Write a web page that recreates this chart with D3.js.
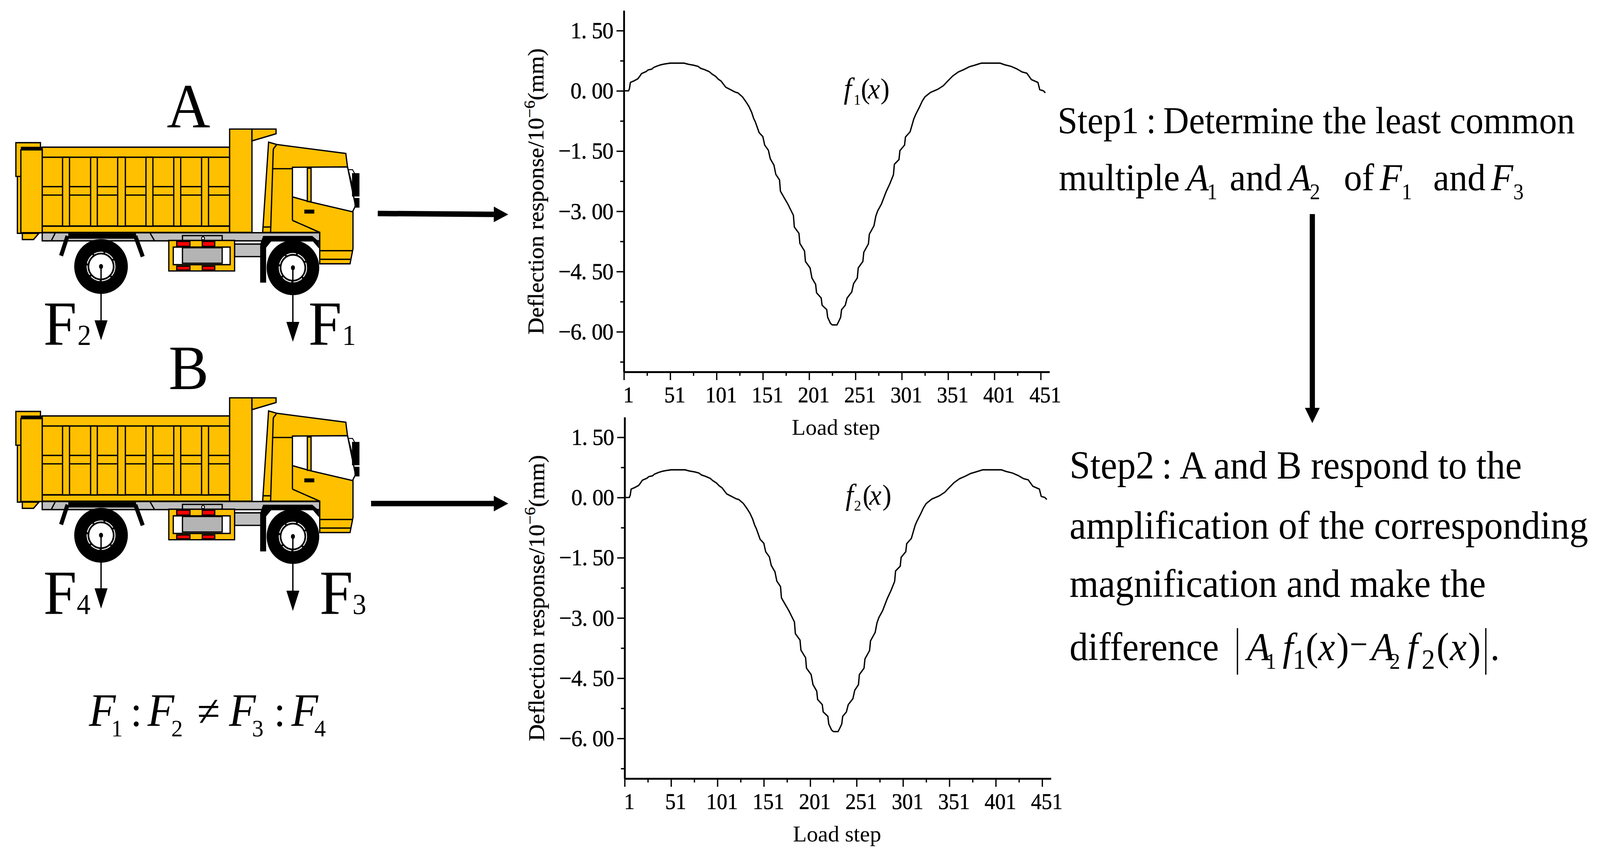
<!DOCTYPE html>
<html>
<head>
<meta charset="utf-8">
<script src="https://cdn.jsdelivr.net/npm/d3@7"></script>
<style>
html, body { margin: 0; padding: 0; background: #fff; overflow: hidden; }
svg { display: block; width: 100vw; height: 100vh; }
text { font-family: "Liberation Serif", serif; fill: #000; }
.axis path, .axis line { stroke: #000; }
</style>
</head>
<body>
<!-- the window can be narrower than the drawing, so the drawing is fitted to it -->
<svg id="fig" viewBox="0 0 4316 2204" preserveAspectRatio="none"></svg>
<script>
// values
var xTicks = [1, 51, 101, 151, 201, 251, 301, 351, 401, 451];
var xMinor = [26, 76, 126, 176, 226, 276, 326, 376, 426];
var yTicks = [1.5, 0, -1.5, -3, -4.5, -6];
var yMinor = [0.75, -0.75, -2.25, -3.75, -5.25, -6.75];
var yTickLabels = ['1. 50', '0. 00', '\u22121. 50', '\u22123. 00', '\u22124. 50', '\u22126. 00'];

var loadStep = [1, 6, 7, 8, 12, 16, 18, 20, 25, 27, 31, 33, 37, 41, 45, 51, 66, 71, 76, 81, 84, 88, 93, 96, 100, 103, 106, 108, 111, 116, 121, 124, 129, 133, 136, 139, 141, 143, 145, 147, 151, 153, 157, 159, 163, 165, 169, 170, 174, 178, 181, 184, 185, 190, 191, 196, 197, 202, 204, 208, 209, 214, 215, 220, 221, 224, 226, 231, 233, 235, 236, 240, 242, 247, 249, 253, 254, 259, 260, 265, 266, 271, 273, 275, 279, 284, 288, 292, 293, 298, 299, 304, 305, 310, 312, 314, 316, 320, 323, 326, 332, 340, 346, 350, 356, 362, 368, 374, 380, 387, 407, 412, 419, 425, 431, 436, 441, 448, 450, 454, 456];
var f1Values = [0, 0, .06, .21, .25, .30, .36, .43, .48, .52, .54, .58, .62, .65, .67, .69, .69, .66, .64, .61, .56, .53, .48, .42, .36, .29, .24, .18, .09, .03, -.03, -.05, -.15, -.28, -.39, -.54, -.68, -.78, -.91, -1.04, -1.14, -1.35, -1.48, -1.69, -1.85, -2.08, -2.22, -2.50, -2.66, -2.82, -2.96, -3.10, -3.39, -3.55, -3.80, -3.99, -4.25, -4.41, -4.66, -4.82, -5.03, -5.16, -5.34, -5.45, -5.64, -5.79, -5.83, -5.83, -5.74, -5.64, -5.45, -5.34, -5.16, -5.01, -4.80, -4.66, -4.41, -4.25, -4.02, -3.81, -3.57, -3.36, -3.12, -2.99, -2.82, -2.52, -2.32, -2.09, -1.83, -1.71, -1.49, -1.35, -1.15, -1.02, -.86, -.70, -.59, -.41, -.26, -.15, -.04, .04, .13, .23, .37, .47, .53, .60, .64, .69, .69, .65, .61, .55, .47, .44, .28, .21, .03, 0, -.05];
var f2Values = [0, 0, .06, .21, .25, .30, .36, .43, .48, .52, .54, .58, .62, .65, .67, .69, .69, .66, .64, .61, .56, .53, .48, .42, .36, .29, .24, .18, .09, .03, -.03, -.05, -.15, -.28, -.39, -.54, -.68, -.78, -.91, -1.04, -1.14, -1.35, -1.48, -1.69, -1.85, -2.08, -2.22, -2.50, -2.66, -2.82, -2.96, -3.10, -3.39, -3.55, -3.80, -3.99, -4.25, -4.41, -4.66, -4.82, -5.03, -5.16, -5.34, -5.45, -5.64, -5.79, -5.83, -5.83, -5.74, -5.64, -5.45, -5.34, -5.16, -5.01, -4.80, -4.66, -4.41, -4.25, -4.02, -3.81, -3.57, -3.36, -3.12, -2.99, -2.82, -2.52, -2.32, -2.09, -1.83, -1.71, -1.49, -1.35, -1.15, -1.02, -.86, -.70, -.59, -.41, -.26, -.15, -.04, .04, .13, .23, .37, .47, .53, .60, .64, .69, .69, .65, .61, .55, .47, .44, .28, .21, .03, 0, -.05];

var svg = d3.select('#fig');

// text helper, width squeezes the run to the measured length
function label(parent, x, y, str, size, opts) {
	opts = opts || {};
	var t = parent.append('text')
		.attr('x', x)
		.attr('y', y)
		.attr('font-size', size)
		.text(str);
	if (opts.anchor) t.attr('text-anchor', opts.anchor);
	if (opts.width) t.attr('textLength', opts.width).attr('lengthAdjust', 'spacingAndGlyphs');
	return t;
}

// one text made of placed runs: [x, y, string, size, italic]
function formula(parent, runs) {
	var t = parent.append('text');
	runs.forEach(function (r) {
		t.append('tspan')
			.attr('x', r[0])
			.attr('y', r[1])
			.attr('font-size', r[3])
			.attr('font-style', r[4] ? 'italic' : 'normal')
			.text(r[2]);
	});
	return t;
}

function drawChart(left, right, top, bottom, values, fRuns, labelMid, labelX) {
	var x = d3.scaleLinear().domain([1, 460.5]).range([left, right]);
	var y = d3.scaleLinear().domain([-7, 2]).range([bottom, top]);
	var g = svg.append('g');

	var xAxis = g.append('g').attr('class', 'axis').attr('transform', 'translate(0,' + bottom + ')')
		.call(d3.axisBottom(x).tickValues(xTicks).tickSize(21).tickSizeOuter(0).tickPadding(17).tickFormat(d3.format('d')));
	g.append('g').attr('class', 'axis').attr('transform', 'translate(0,' + bottom + ')')
		.call(d3.axisBottom(x).tickValues(xMinor).tickSize(10).tickSizeOuter(0).tickFormat(''));
	var yAxis = g.append('g').attr('class', 'axis').attr('transform', 'translate(' + left + ',0)')
		.call(d3.axisLeft(y).tickValues(yTicks).tickSize(20).tickSizeOuter(0).tickPadding(9)
			.tickFormat(function (d, i) { return yTickLabels[i]; }));
	g.append('g').attr('class', 'axis').attr('transform', 'translate(' + left + ',0)')
		.call(d3.axisLeft(y).tickValues(yMinor).tickSize(10).tickSizeOuter(0).tickFormat(''));

	g.selectAll('.axis path').attr('stroke-width', 4.5);
	g.selectAll('.axis line').attr('stroke-width', 3.5);
	xAxis.selectAll('text').attr('font-size', 57).attr('dx', 12).style('stroke', '#000').style('stroke-width', 0.7);
	yAxis.selectAll('text').attr('font-size', 60).attr('letter-spacing', -1).style('stroke', '#000').style('stroke-width', 0.7);

	var line = d3.line()
		.x(function (d) { return x(d[0]); })
		.y(function (d) { return y(d[1]); });
	g.append('path')
		.datum(d3.zip(loadStep, values))
		.attr('fill', 'none')
		.attr('stroke', '#000')
		.attr('stroke-width', 3.6)
		.attr('d', line);

	label(g, (left + right) / 2 - 2, bottom + 161, 'Load step', 58, { anchor: 'middle', width: 238 });

	// rotated y title with the exponent raised
	var yt = g.append('text')
		.attr('transform', 'translate(' + labelX + ',' + labelMid + ') rotate(-90)')
		.attr('text-anchor', 'middle')
		.attr('font-size', 60)
		.style('stroke', '#000')
		.style('stroke-width', 0.5);
	yt.append('tspan').text('Deflection response/10');
	yt.append('tspan').attr('font-size', 42).attr('dy', -24).text('\u22126');
	yt.append('tspan').attr('dy', 24).text('(mm)');

	formula(g, fRuns);
}

drawChart(1683, 2831, 27, 952, f1Values,
	[[2276, 252, 'f', 76, true], [2303, 268, '1', 38], [2322, 252, '(', 74], [2341, 252, 'x', 74, true], [2375, 252, ')', 74]], 490, 1466);
drawChart(1685, 2835, 1068, 1993, f2Values,
	[[2281, 1292, 'f', 76, true], [2304, 1307, '2', 38], [2327, 1292, '(', 74], [2345, 1292, 'x', 74, true], [2380, 1292, ')', 74]], 1531, 1468);

// truck traced in crop coordinates, mapped to the page by two scales
var tx = d3.scaleLinear().domain([0, 1568]).range([0, 1050]);
var ty = d3.scaleLinear().domain([0, 1568]).range([200, 920]);
var yellow = '#FFC000', grey = '#BFBFBF', red = '#FF0000';

function poly(g, pts, fill, sw) {
	g.append('polygon')
		.attr('points', pts.map(function (p) { return tx(p[0]) + ',' + ty(p[1]); }).join(' '))
		.attr('fill', fill)
		.attr('stroke', '#000')
		.attr('stroke-width', sw === undefined ? 3.4 : sw)
		.attr('stroke-linejoin', 'miter');
}
function box(g, x0, y0, x1, y1, fill, sw) {
	poly(g, [[x0, y0], [x1, y0], [x1, y1], [x0, y1]], fill, sw);
}
function seg(g, x0, y0, x1, y1, sw) {
	g.append('line')
		.attr('x1', tx(x0)).attr('y1', ty(y0)).attr('x2', tx(x1)).attr('y2', ty(y1))
		.attr('stroke', '#000')
		.attr('stroke-width', sw === undefined ? 3.4 : sw);
}
function wheel(g, cx, cy, rx, ry) {
	var sx = 1050 / 1568, sy = 720 / 1568;
	function oval(a, b, fill) {
		return g.append('ellipse')
			.attr('cx', tx(cx)).attr('cy', ty(cy))
			.attr('rx', a * sx).attr('ry', b * sy).attr('fill', fill);
	}
	oval(rx, ry, '#000');
	oval(rx * 0.52, ry * 0.52, 'none').attr('stroke', '#fff').attr('stroke-width', 2.5).attr('stroke-dasharray', '26 5');
	oval(rx * 0.44, ry * 0.44, '#fff');
	oval(8, 14, '#000');
}

function drawTruck(dy) {
	var g = svg.append('g').attr('transform', 'translate(0,' + dy + ')');

	// tail gate
	box(g, 64, 360, 163, 548, yellow);
	box(g, 70, 548, 90, 865, yellow);
	poly(g, [[90, 865], [157, 865], [135, 900], [90, 900]], yellow);

	// chassis rail
	box(g, 170, 862, 1288, 907, grey);
	seg(g, 222, 865, 207, 905);
	seg(g, 605, 865, 622, 905);
	box(g, 945, 925, 1055, 995, grey);
	box(g, 275, 865, 548, 895, '#000', 0);
	seg(g, 272, 880, 246, 990, 11);
	seg(g, 545, 880, 575, 995, 11);

	// cargo box
	box(g, 170, 385, 925, 860, yellow);
	seg(g, 170, 441, 925, 441);
	seg(g, 170, 825, 925, 825, 4);
	seg(g, 170, 605, 925, 605);
	seg(g, 170, 652, 925, 652);
	[[252, 280], [365, 392], [474, 505], [588, 616], [700, 728], [812, 840]].forEach(function (p) {
		box(g, p[0], 441, p[1], 825, yellow);
	});

	// tail post, dark band on top
	box(g, 84, 400, 170, 862, yellow);
	box(g, 84, 383, 170, 402, '#000', 0);

	// headboard and visor
	box(g, 925, 284, 1015, 860, yellow);
	poly(g, [[1015, 284], [1112, 284], [1112, 310], [1015, 350]], yellow);

	// cab
	poly(g, [[1082, 357], [1115, 370], [1393, 420], [1400, 497], [1422, 745], [1422, 950], [1410, 1035], [1288, 1035], [1288, 860], [1058, 860]], yellow);
	seg(g, 1115, 370, 1101, 395);
	seg(g, 1101, 395, 1090, 860);
	seg(g, 1100, 505, 1178, 505);
	seg(g, 1060, 830, 1090, 830);
	poly(g, [[1178, 497], [1400, 495], [1432, 712], [1420, 745], [1250, 690], [1178, 662]], '#fff');
	box(g, 1238, 502, 1253, 688, yellow);
	seg(g, 1178, 662, 1178, 793);
	seg(g, 1178, 793, 1288, 860);
	box(g, 1226, 733, 1266, 755, '#000', 0);
	seg(g, 1288, 962, 1418, 962);
	seg(g, 1288, 1010, 1412, 1010);
	poly(g, [[1403, 510], [1420, 510], [1428, 530], [1420, 600]], '#fff', 2.5);
	box(g, 1418, 530, 1448, 660, '#000', 0);
	box(g, 1428, 668, 1448, 722, '#000', 0);

	// fuel tank
	box(g, 735, 878, 895, 907, grey);
	g.append('circle').attr('cx', tx(818)).attr('cy', ty(893)).attr('r', 4).attr('fill', '#fff').attr('stroke', '#000').attr('stroke-width', 2.5);
	box(g, 680, 905, 945, 1075, yellow);
	box(g, 698, 942, 927, 1040, '#fff');
	box(g, 735, 945, 895, 1032, '#B4B4B4');
	box(g, 712, 910, 765, 938, red);
	box(g, 815, 910, 865, 938, red);
	box(g, 712, 1048, 765, 1070, red);
	box(g, 815, 1048, 865, 1070, red);

	// front arch
	poly(g, [[1060, 880], [1258, 880], [1285, 912], [1285, 950], [1258, 906], [1095, 906], [1072, 945], [1072, 1140], [1048, 1140], [1048, 925]], '#000', 0);

	wheel(g, 407, 1050, 108, 153);
	wheel(g, 1180, 1057, 106, 153);
}
drawTruck(0);
drawTruck(688);

// force arrows: x, shaft top, head top, tip
function forceArrow(x, y0, y1, y2) {
	svg.append('line').attr('x1', x).attr('x2', x).attr('y1', y0).attr('y2', y1 + 4)
		.attr('stroke', '#000').attr('stroke-width', 3.6);
	svg.append('path').attr('d', d3.line()([[x - 17.5, y1], [x + 17.5, y1], [x, y2]])).attr('fill', '#000');
}
forceArrow(272.6, 682, 820, 871);
forceArrow(790, 685, 824, 875);
forceArrow(272.6, 1370, 1506, 1558);
forceArrow(790, 1373, 1512, 1564);

// thick process arrows
function bigArrow(x0, y0, x1, y1) {
	var len = Math.hypot(x1 - x0, y1 - y0), ux = (x1 - x0) / len, uy = (y1 - y0) / len, hl = 39, hw = 20;
	svg.append('line').attr('x1', x0).attr('y1', y0).attr('x2', x1 - ux * hl).attr('y2', y1 - uy * hl)
		.attr('stroke', '#000').attr('stroke-width', 14);
	svg.append('path').attr('d', d3.line()([
		[x1 - ux * hl - uy * hw, y1 - uy * hl + ux * hw],
		[x1 - ux * hl + uy * hw, y1 - uy * hl - ux * hw],
		[x1, y1]
	])).attr('fill', '#000');
}
bigArrow(1019, 546.5, 1371, 549);
bigArrow(1001, 1289, 1371, 1289);
bigArrow(3540, 548, 3540, 1083);

// letters beside the trucks
label(svg, 450, 326, 'A', 162);
label(svg, 455, 996, 'B', 162);
formula(svg, [[117, 883, 'F', 162], [209, 883, '2', 74]]);
formula(svg, [[832, 883, 'F', 162], [923, 883, '1', 74]]);
formula(svg, [[117, 1572, 'F', 162], [207, 1572, '4', 74]]);
formula(svg, [[862, 1572, 'F', 162], [951, 1572, '3', 74]]);

// ratio under the trucks
formula(svg, [
	[240, 1858, 'F', 118, true], [300, 1885, '1', 62], [352, 1858, ':', 112],
	[398, 1858, 'F', 118, true], [462, 1885, '2', 62], [532, 1858, '\u2260', 112],
	[618, 1858, 'F', 118, true], [680, 1885, '3', 62], [739, 1858, ':', 112],
	[786, 1858, 'F', 118, true], [848, 1885, '4', 62]
]);

// step texts
label(svg, 2853, 341, 'Step1\u2009:\u2009Determine the least common', 98, { width: 1395 });
formula(svg, [
	[2856, 487, 'multiple', 98], [3201, 487, 'A', 98, true], [3256, 510, '1', 56],
	[3317, 487, 'and', 98], [3477, 487, 'A', 98, true], [3533, 510, '2', 56],
	[3625, 487, 'of', 98], [3722, 487, 'F', 98, true], [3781, 510, '1', 56],
	[3866, 487, 'and', 98], [4022, 487, 'F', 98, true], [4082, 510, '3', 56]
]);

label(svg, 2885, 1225, 'Step2\u2009:\u2009A and B respond to the', 102, { width: 1220 });
label(svg, 2885, 1379, 'amplification of the corresponding', 102, { width: 1399 });
label(svg, 2885, 1528, 'magnification and make the', 102, { width: 1123 });
label(svg, 2885, 1690, 'difference', 102, { width: 403 });

svg.append('line').attr('x1', 3338).attr('x2', 3338).attr('y1', 1608).attr('y2', 1727).attr('stroke', '#000').attr('stroke-width', 3.5);
svg.append('line').attr('x1', 4008).attr('x2', 4008).attr('y1', 1608).attr('y2', 1727).attr('stroke', '#000').attr('stroke-width', 3.5);
formula(svg, [
	[3364, 1690, 'A', 102, true], [3414, 1712, '1', 58],
	[3460, 1690, 'f', 102, true], [3487, 1712, '1', 72],
	[3522, 1690, '(', 102], [3556, 1690, 'x', 102, true], [3605, 1690, ')', 102],
	[3641, 1678, '\u2212', 86],
	[3699, 1690, 'A', 102, true], [3748, 1712, '2', 58],
	[3796, 1690, 'f', 102, true], [3835, 1712, '2', 72],
	[3875, 1690, '(', 102], [3911, 1690, 'x', 102, true], [3960, 1690, ')', 102],
	[4020, 1690, '.', 102]
]);
</script>
</body>
</html>
